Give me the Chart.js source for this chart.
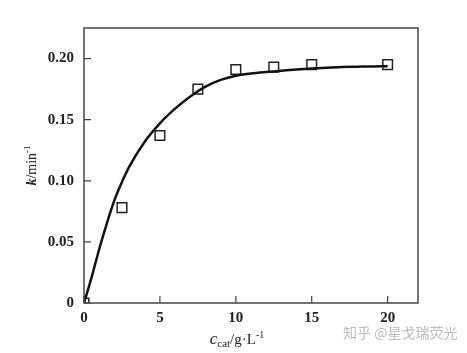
<!DOCTYPE html>
<html><head><meta charset="utf-8">
<script src="https://cdn.jsdelivr.net/npm/chart.js@4/dist/chart.umd.min.js"></script>
<style>html,body{margin:0;padding:0;background:#fff;}#wrap{width:467px;height:353px;position:relative;}</style>
</head><body><div id="wrap"><canvas id="c" width="467" height="353"></canvas></div>
<script>
// measured points
const catConc = [0, 2.5, 5, 7.5, 10, 12.5, 15, 20];
const kValues = [0, 0.078, 0.137, 0.175, 0.191, 0.193, 0.195, 0.195];
// fitted curve
const fitConc = [0, 0.5, 1, 1.5, 2, 2.5, 3, 4, 5, 6, 7, 8, 9, 10, 11, 12, 13, 14, 15, 16, 17, 18, 19, 20];
const fitK = [0, 0.021, 0.044, 0.065, 0.084, 0.099, 0.112, 0.132, 0.147, 0.159, 0.169, 0.177, 0.1825, 0.186, 0.1878, 0.189, 0.190, 0.191, 0.1918, 0.1925, 0.193, 0.1933, 0.1936, 0.1938];
const xTicks = [0, 5, 10, 15, 20];
const yTicks = [0, 0.05, 0.10, 0.15, 0.20];

const SERIF = '"Liberation Serif","Times New Roman",serif';

const framePlugin = {
  id: 'frame',
  afterDraw(chart) {
    const {ctx, chartArea: a, scales: {x, y}} = chart;
    ctx.save();
    ctx.strokeStyle = '#444';
    ctx.lineWidth = 1.5;
    ctx.strokeRect(a.left, a.top, a.right - a.left, a.bottom - a.top);
    ctx.lineWidth = 1.2;
    ctx.beginPath();
    xTicks.forEach(v => { const px = x.getPixelForValue(v); ctx.moveTo(px, a.bottom); ctx.lineTo(px, a.bottom - 7); });
    yTicks.forEach(v => { const py = y.getPixelForValue(v); ctx.moveTo(a.left, py); ctx.lineTo(a.left + 7, py); });
    ctx.stroke();
    // y title: k/min-1 rotated
    ctx.fillStyle = '#222';
    ctx.save();
    ctx.translate(36, (a.top + a.bottom) / 2);
    ctx.rotate(-Math.PI / 2);
    ctx.textBaseline = 'alphabetic';
    const parts = [
      {t: 'k', f: 'italic bold 14px ' + SERIF, dy: 0},
      {t: '/min', f: '14px ' + SERIF, dy: 0},
      {t: '-1', f: '9px ' + SERIF, dy: -6}
    ];
    let w = 0;
    parts.forEach(p => { ctx.font = p.f; w += ctx.measureText(p.t).width; });
    let cx = -w / 2;
    parts.forEach(p => { ctx.font = p.f; ctx.fillText(p.t, cx, p.dy); cx += ctx.measureText(p.t).width; });
    ctx.restore();
    // x title: c_cat/g·L-1
    const xp = [
      {t: 'c', f: 'italic 17px ' + SERIF, dy: 0},
      {t: 'cat', f: '11px ' + SERIF, dy: 3},
      {t: '/g\u00b7L', f: '15px ' + SERIF, dy: 0},
      {t: '-1', f: '10px ' + SERIF, dy: -6}
    ];
    let wx = 0;
    xp.forEach(p => { ctx.font = p.f; wx += ctx.measureText(p.t).width; });
    let sx = 237 - wx / 2;
    xp.forEach(p => { ctx.font = p.f; ctx.fillText(p.t, sx, 344 + p.dy); sx += ctx.measureText(p.t).width; });
    // watermark
    ctx.font = '14px "Noto Sans CJK SC", sans-serif';
    ctx.fillStyle = '#bababa';
    ctx.fillText('知乎 @星戈瑞荧光', 343, 338);
    ctx.restore();
  }
};

new Chart(document.getElementById('c'), {
  type: 'scatter',
  data: {
    datasets: [
      {
        data: fitConc.map((v, i) => ({x: v, y: fitK[i]})),
        showLine: true, borderColor: '#111', borderWidth: 2.5, pointRadius: 0,
        cubicInterpolationMode: 'monotone', fill: false
      },
      {
        data: catConc.map((v, i) => ({x: v, y: kValues[i]})),
        showLine: false, pointStyle: 'rect', pointRadius: 6.8,
        borderColor: '#222', borderWidth: 1.5, backgroundColor: 'rgba(0,0,0,0)'
      }
    ]
  },
  options: {
    responsive: false, animation: false,
    layout: {padding: {top: 28, right: 49, left: 0, bottom: 0}},
    plugins: {legend: {display: false}, tooltip: {enabled: false}},
    scales: {
      x: {
        type: 'linear', min: 0, max: 22,
        grid: {display: false, drawTicks: false}, border: {display: false},
        ticks: {stepSize: 5, includeBounds: false, padding: 6, color: '#222',
          font: {family: SERIF, size: 15, weight: 'bold'}},
        afterFit(s) { s.height = 50; }
      },
      y: {
        min: 0, max: 0.225,
        grid: {display: false, drawTicks: false}, border: {display: false},
        ticks: {stepSize: 0.05, includeBounds: false, padding: 10, color: '#222',
          font: {family: SERIF, size: 15, weight: 'bold'},
          callback: v => v === 0 ? '0' : v.toFixed(2)},
        afterFit(s) { s.width = 84; }
      }
    }
  },
  plugins: [framePlugin]
});
</script></body></html>
